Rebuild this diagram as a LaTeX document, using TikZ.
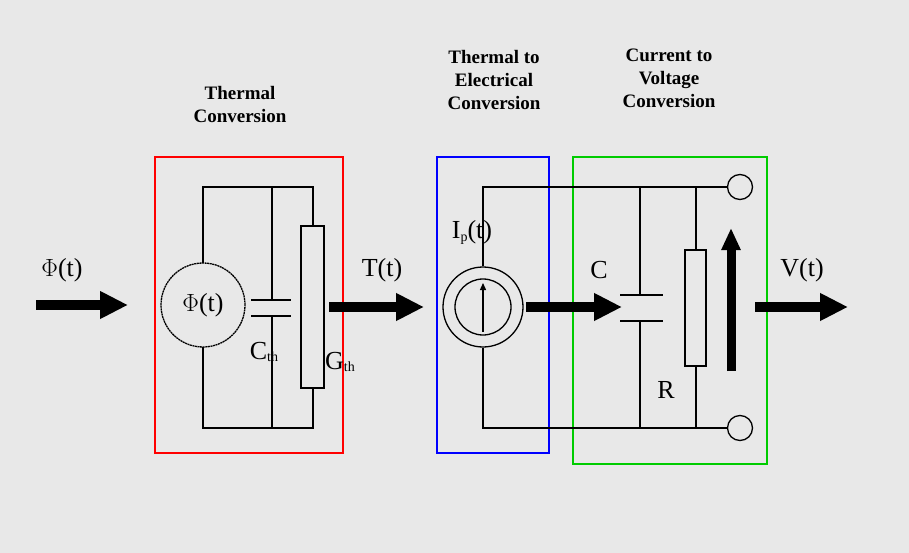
\documentclass[tikz,border=0pt]{standalone}
\usepackage{fontspec}
\setmainfont{Liberation Serif}
\usetikzlibrary{arrows.meta}
\begin{document}
\begin{tikzpicture}[x=1pt,y=-1pt,
  wire/.style={line width=1.3pt},
  big/.style={line width=10pt,-{Triangle[length=28pt,width=26pt]}},
  lbl/.style={font=\fontsize{26}{28}\selectfont},
  ttl/.style={font=\fontsize{19}{23}\selectfont\bfseries,align=center},
  box/.style={line width=1.5pt}]
\fill[gray!18] (0,0) rectangle (909,553);
\useasboundingbox (0,0) rectangle (909,553);
% titles
\node[ttl] (t1) at (240,105) {Thermal\\Conversion};
\node[ttl] (t2) at (494,80) {Thermal to\\Electrical\\Conversion};
\node[ttl] (t3) at (669,78) {Current to\\Voltage\\Conversion};
% boxes
\draw[box,red] (155,157) rectangle (343,453);
\draw[box,blue] (437,157) rectangle (549,453);
\draw[box,green!80!black] (573,157) rectangle (767,464);
% thermal circuit
\draw[wire] (203,263) -- (203,187) -- (313,187) -- (313,226);
\draw[wire] (203,347) -- (203,428) -- (313,428) -- (313,388);
\draw[wire] (272,187) -- (272,300) (272,316) -- (272,428);
\draw[wire] (251,300) -- (291,300) (251,316) -- (291,316);
\draw[wire] (301,226) rectangle (324,388);
\node[wire,draw,dash pattern=on 2pt off 0.6pt,circle,minimum size=84pt,inner sep=0pt,lbl] (phi) at (203,305) {$\Phi$(t)};
\node[lbl] (cth) at (264,352) {C\raisebox{-2pt}{\fontsize{14}{14}\selectfont th}};
\node[lbl] (gth) at (340,362) {G\raisebox{-2pt}{\fontsize{14}{14}\selectfont th}};
% input arrows
\coordinate (a0) at (36,305); \coordinate (a1) at (128,305);
\draw[big] (a0) -- (a1);
\node[lbl] (lphi) at (62,270) {$\Phi$(t)};
\coordinate (b0) at (329,307); \coordinate (b1) at (424,307);
\draw[big] (b0) -- (b1);
\node[lbl] (lT) at (382,270) {T(t)};
% current source
\node[wire,draw,circle,minimum size=80pt,inner sep=0pt] (src) at (483,307) {};
\node[wire,draw,circle,minimum size=56pt,inner sep=0pt] (srci) at (483,307) {};
\draw[wire] (src.north) -- (483,187) coordinate (tl) -- (727,187);
\draw[wire] (src.south) -- (483,428) -- (727,428);
\draw[wire,-{Triangle[length=7pt,width=6pt]}] (483,332) -- (483,283);
\node[lbl] (lI) at (472,232) {I\raisebox{-3pt}{\fontsize{14}{14}\selectfont p}(t)};
\coordinate (c0) at (526,307); \coordinate (c1) at (622,307);
\draw[big] (c0) -- (c1);
% output stage
\node[wire,draw,circle,minimum size=25pt,inner sep=0pt] (o1) at (740,187) {};
\node[wire,draw,circle,minimum size=25pt,inner sep=0pt] (o2) at (740,428) {};
\draw[wire] (640,187) -- (640,295) (640,321) -- (640,428);
\draw[wire] (620,295) -- (663,295) (620,321) -- (663,321);
\draw[wire] (696,187) -- (696,250) (696,366) -- (696,428);
\draw[wire] (685,250) rectangle (706,366);
\node[lbl] (lC) at (599,270) {C};
\node[lbl] (lR) at (666,390) {R};
\coordinate (v0) at (731,371); \coordinate (v1) at (731,228);
\draw[line width=9pt,-{Triangle[length=22pt,width=18pt]}] (v0) -- (v1);
\coordinate (d0) at (755,307); \coordinate (d1) at (848,307);
\draw[big] (d0) -- (d1);
\node[lbl] (lV) at (802,270) {V(t)};
\end{tikzpicture}
\end{document}
